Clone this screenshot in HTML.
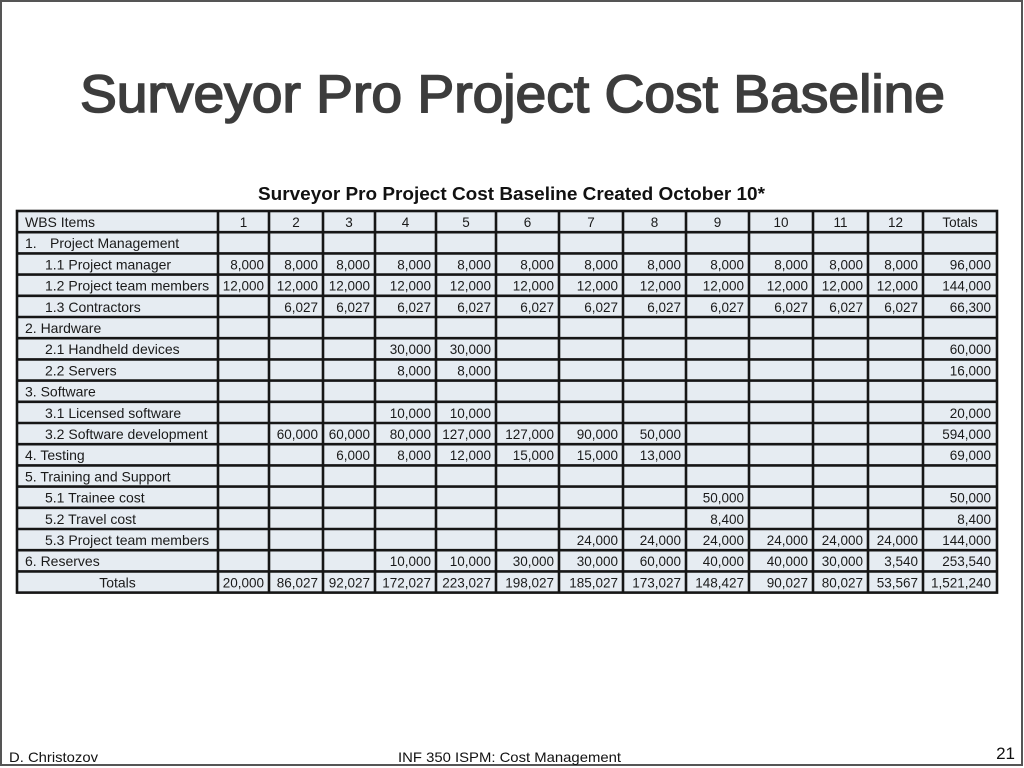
<!DOCTYPE html>
<html><head><meta charset="utf-8"><style>
html,body{margin:0;padding:0;background:#fff;}
svg{display:block;}
text{font-family:"Liberation Sans",Arial,sans-serif;}
</style></head><body>
<svg width="1024" height="768" viewBox="0 0 1024 768" xmlns="http://www.w3.org/2000/svg">
<rect x="0" y="0" width="1024" height="768" fill="#fff"/>
<!-- page frame -->
<rect x="1" y="1" width="1021" height="764" fill="none" stroke="#555" stroke-width="2"/>

<!-- Title -->
<text x="80" y="112" font-size="53" fill="#3c3c3c" stroke="#3c3c3c" stroke-width="1.6" textLength="865" lengthAdjust="spacingAndGlyphs">Surveyor Pro Project Cost Baseline</text>

<!-- Subtitle -->
<text x="258" y="200" font-size="18" font-weight="bold" fill="#111" textLength="507" lengthAdjust="spacingAndGlyphs">Surveyor Pro Project Cost Baseline Created October 10*</text>

<!-- table background -->
<rect x="17" y="211" width="980" height="381.6" fill="#e6ecf2"/>
<g stroke="#161616" stroke-width="2.6" fill="none">
<rect x="17" y="211" width="980" height="381.6"/>
<line x1="218" y1="211" x2="218" y2="592.6"/>
<line x1="269" y1="211" x2="269" y2="592.6"/>
<line x1="323" y1="211" x2="323" y2="592.6"/>
<line x1="375" y1="211" x2="375" y2="592.6"/>
<line x1="436" y1="211" x2="436" y2="592.6"/>
<line x1="496" y1="211" x2="496" y2="592.6"/>
<line x1="559" y1="211" x2="559" y2="592.6"/>
<line x1="623" y1="211" x2="623" y2="592.6"/>
<line x1="686" y1="211" x2="686" y2="592.6"/>
<line x1="749" y1="211" x2="749" y2="592.6"/>
<line x1="813" y1="211" x2="813" y2="592.6"/>
<line x1="868" y1="211" x2="868" y2="592.6"/>
<line x1="923" y1="211" x2="923" y2="592.6"/>
<line x1="17" y1="232.2" x2="997" y2="232.2"/>
<line x1="17" y1="253.4" x2="997" y2="253.4"/>
<line x1="17" y1="274.6" x2="997" y2="274.6"/>
<line x1="17" y1="295.8" x2="997" y2="295.8"/>
<line x1="17" y1="317" x2="997" y2="317"/>
<line x1="17" y1="338.2" x2="997" y2="338.2"/>
<line x1="17" y1="359.4" x2="997" y2="359.4"/>
<line x1="17" y1="380.6" x2="997" y2="380.6"/>
<line x1="17" y1="401.8" x2="997" y2="401.8"/>
<line x1="17" y1="423" x2="997" y2="423"/>
<line x1="17" y1="444.2" x2="997" y2="444.2"/>
<line x1="17" y1="465.4" x2="997" y2="465.4"/>
<line x1="17" y1="486.6" x2="997" y2="486.6"/>
<line x1="17" y1="507.8" x2="997" y2="507.8"/>
<line x1="17" y1="529" x2="997" y2="529"/>
<line x1="17" y1="550.2" x2="997" y2="550.2"/>
<line x1="17" y1="571.4" x2="997" y2="571.4"/>
</g>

<!-- labels -->
<g font-size="14" fill="#1a1a1a">
<text x="25" y="227">WBS Items</text>
<text x="25" y="248.2">1.</text><text x="50" y="248.2">Project Management</text>
<text x="45" y="269.4">1.1 Project manager</text>
<text x="45" y="290.6">1.2 Project team members</text>
<text x="45" y="311.8">1.3 Contractors</text>
<text x="25" y="333">2. Hardware</text>
<text x="45" y="354.2">2.1 Handheld devices</text>
<text x="45" y="375.4">2.2 Servers</text>
<text x="25" y="396.6">3. Software</text>
<text x="45" y="417.8">3.1 Licensed software</text>
<text x="45" y="439">3.2 Software development</text>
<text x="25" y="460.2">4. Testing</text>
<text x="25" y="481.4">5. Training and Support</text>
<text x="45" y="502.6">5.1 Trainee cost</text>
<text x="45" y="523.8">5.2 Travel cost</text>
<text x="45" y="545">5.3 Project team members</text>
<text x="25" y="566.2">6. Reserves</text>
<text x="117.5" y="587.4" text-anchor="middle">Totals</text>
</g>

<!-- header -->
<g font-size="13.5" fill="#1a1a1a" text-anchor="middle">
<text x="243.5" y="227">1</text>
<text x="296" y="227">2</text>
<text x="349" y="227">3</text>
<text x="405.5" y="227">4</text>
<text x="466" y="227">5</text>
<text x="527.5" y="227">6</text>
<text x="591" y="227">7</text>
<text x="654.5" y="227">8</text>
<text x="717.5" y="227">9</text>
<text x="781" y="227">10</text>
<text x="840.5" y="227">11</text>
<text x="895.5" y="227">12</text>
<text x="960" y="227">Totals</text>
</g>

<!-- numbers -->
<g font-size="13.5" fill="#1a1a1a" text-anchor="end">
<!-- 1.1 -->
<text x="264" y="269.4">8,000</text><text x="318" y="269.4">8,000</text><text x="370" y="269.4">8,000</text><text x="431" y="269.4">8,000</text><text x="491" y="269.4">8,000</text><text x="554" y="269.4">8,000</text><text x="618" y="269.4">8,000</text><text x="681" y="269.4">8,000</text><text x="744" y="269.4">8,000</text><text x="808" y="269.4">8,000</text><text x="863" y="269.4">8,000</text><text x="918" y="269.4">8,000</text><text x="991" y="269.4">96,000</text>
<!-- 1.2 -->
<text x="264" y="290.6">12,000</text><text x="318" y="290.6">12,000</text><text x="370" y="290.6">12,000</text><text x="431" y="290.6">12,000</text><text x="491" y="290.6">12,000</text><text x="554" y="290.6">12,000</text><text x="618" y="290.6">12,000</text><text x="681" y="290.6">12,000</text><text x="744" y="290.6">12,000</text><text x="808" y="290.6">12,000</text><text x="863" y="290.6">12,000</text><text x="918" y="290.6">12,000</text><text x="991" y="290.6">144,000</text>
<!-- 1.3 -->
<text x="318" y="311.8">6,027</text><text x="370" y="311.8">6,027</text><text x="431" y="311.8">6,027</text><text x="491" y="311.8">6,027</text><text x="554" y="311.8">6,027</text><text x="618" y="311.8">6,027</text><text x="681" y="311.8">6,027</text><text x="744" y="311.8">6,027</text><text x="808" y="311.8">6,027</text><text x="863" y="311.8">6,027</text><text x="918" y="311.8">6,027</text><text x="991" y="311.8">66,300</text>
<!-- 2.1 -->
<text x="431" y="354.2">30,000</text><text x="491" y="354.2">30,000</text><text x="991" y="354.2">60,000</text>
<!-- 2.2 -->
<text x="431" y="375.4">8,000</text><text x="491" y="375.4">8,000</text><text x="991" y="375.4">16,000</text>
<!-- 3.1 -->
<text x="431" y="417.8">10,000</text><text x="491" y="417.8">10,000</text><text x="991" y="417.8">20,000</text>
<!-- 3.2 -->
<text x="318" y="439">60,000</text><text x="370" y="439">60,000</text><text x="431" y="439">80,000</text><text x="491" y="439">127,000</text><text x="554" y="439">127,000</text><text x="618" y="439">90,000</text><text x="681" y="439">50,000</text><text x="991" y="439">594,000</text>
<!-- 4 -->
<text x="370" y="460.2">6,000</text><text x="431" y="460.2">8,000</text><text x="491" y="460.2">12,000</text><text x="554" y="460.2">15,000</text><text x="618" y="460.2">15,000</text><text x="681" y="460.2">13,000</text><text x="991" y="460.2">69,000</text>
<!-- 5.1 -->
<text x="744" y="502.6">50,000</text><text x="991" y="502.6">50,000</text>
<!-- 5.2 -->
<text x="744" y="523.8">8,400</text><text x="991" y="523.8">8,400</text>
<!-- 5.3 -->
<text x="618" y="545">24,000</text><text x="681" y="545">24,000</text><text x="744" y="545">24,000</text><text x="808" y="545">24,000</text><text x="863" y="545">24,000</text><text x="918" y="545">24,000</text><text x="991" y="545">144,000</text>
<!-- 6 -->
<text x="431" y="566.2">10,000</text><text x="491" y="566.2">10,000</text><text x="554" y="566.2">30,000</text><text x="618" y="566.2">30,000</text><text x="681" y="566.2">60,000</text><text x="744" y="566.2">40,000</text><text x="808" y="566.2">40,000</text><text x="863" y="566.2">30,000</text><text x="918" y="566.2">3,540</text><text x="991" y="566.2">253,540</text>
<!-- Totals -->
<text x="264" y="587.4">20,000</text><text x="318" y="587.4">86,027</text><text x="370" y="587.4">92,027</text><text x="431" y="587.4">172,027</text><text x="491" y="587.4">223,027</text><text x="554" y="587.4">198,027</text><text x="618" y="587.4">185,027</text><text x="681" y="587.4">173,027</text><text x="744" y="587.4">148,427</text><text x="808" y="587.4">90,027</text><text x="863" y="587.4">80,027</text><text x="918" y="587.4">53,567</text><text x="991" y="587.4">1,521,240</text>
</g>

<!-- footer -->
<text x="9" y="762" font-size="14" fill="#111" textLength="89" lengthAdjust="spacingAndGlyphs">D. Christozov</text>
<text x="398" y="762" font-size="14" fill="#111" textLength="223" lengthAdjust="spacingAndGlyphs">INF 350 ISPM: Cost Management</text>
<text x="1015" y="759" font-size="17" fill="#111" text-anchor="end">21</text>
</svg>
</body></html>
